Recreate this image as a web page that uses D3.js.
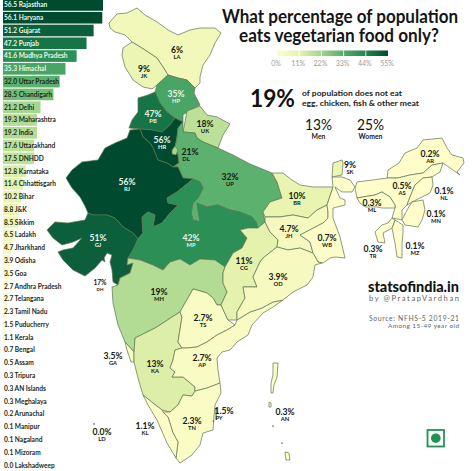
<!DOCTYPE html>
<html>
<head>
<meta charset="utf-8">
<title>India vegetarian share</title>
<script src="https://cdn.jsdelivr.net/npm/d3@7"></script>
<style>
html, body { margin: 0; padding: 0; background: #fff; }
svg { display: block; }
text { font-family: Lato, "Open Sans", sans-serif; }
</style>
</head>
<body>
<svg id="chart" width="474" height="471"></svg>
<script>
// ranking on the left
var rankNames = ["Rajasthan","Haryana","Gujarat","Punjab","Madhya Pradesh","Himachal","Uttar Pradesh","Chandigarh","Delhi","Maharashtra","India","Uttarakhand","DNHDD","Karnataka","Chhattisgarh","Bihar","J&K","Sikkim","Ladakh","Jharkhand","Odisha","Goa","Andhra Pradesh","Telangana","Tamil Nadu","Puducherry","Kerala","Bengal","Assam","Tripura","AN Islands","Meghalaya","Arunachal","Manipur","Nagaland","Mizoram","Lakshadweep"];
var rankValues = [56.5,56.1,51.2,47.2,41.6,35.3,32.0,28.5,21.2,19.3,19.2,17.6,17.5,12.8,11.4,10.2,8.8,8.5,6.5,4.7,3.9,3.5,2.7,2.7,2.3,1.5,1.1,0.7,0.5,0.3,0.3,0.3,0.2,0.1,0.1,0.1,0.0];

// legend
var legendTicks = [0,11,22,33,44,55];
var legendColors = ["#fffecb","#e7f3ae","#a1d48a","#54ad6a","#1f8650","#004a2f"];

// state outlines, [lon, lat]
var la = [[72.53,37.03],[73.09,37.63],[73.79,37.69],[74.49,38.02],[75.05,37.56],[75.89,37.1],[76.66,36.57],[77.36,36.24],[78.2,36.57],[78.9,36.7],[79.95,36.7],[80.37,36.37],[79.95,35.71],[79.6,34.92],[79.11,34.26],[78.9,33.47],[78.9,33.07],[78.55,32.74],[77.99,33.27],[77.36,33.4],[76.66,33.6],[76.31,34.13],[75.89,34.72],[75.05,35.25],[74.49,35.58],[74.14,35.78],[73.65,36.24],[72.95,36.44],[72.6,36.7]];
var jk = [[74.14,35.78],[73.51,35.38],[73.44,34.92],[73.65,34.13],[74.21,33.27],[74.91,32.81],[75.54,32.68],[75.89,32.94],[76.66,33.6],[76.31,34.13],[75.89,34.72],[75.05,35.25],[74.49,35.58]];
var hp = [[75.89,32.94],[76.66,33.6],[77.36,33.4],[77.99,33.27],[78.55,32.74],[78.48,32.41],[78.9,31.62],[78.2,31.29],[77.71,30.96],[77.71,30.5],[77.15,30.76],[76.59,31.16],[76.1,31.75],[75.75,32.48]];
var pb = [[75.75,32.48],[76.1,31.75],[76.59,31.16],[77.15,30.76],[76.8,30.3],[76.24,29.84],[75.54,29.97],[74.7,30.04],[73.93,30.1],[74.14,30.63],[74.56,31.16],[74.56,32.08],[75.26,32.28]];
var hr = [[77.71,30.5],[77.15,30.76],[76.8,30.3],[76.24,29.84],[75.54,29.97],[74.7,30.04],[74.91,29.51],[75.4,29.11],[75.61,28.78],[75.96,27.99],[76.59,27.79],[77.01,27.53],[77.43,27.79],[77.36,28.32],[77.15,28.85],[77.29,29.51],[77.36,30.1]];
var dl = [[76.94,28.65],[77.15,28.91],[77.36,28.65],[77.22,28.32],[76.94,28.39]];
var uk = [[77.85,30.5],[77.99,31.22],[78.9,31.55],[79.39,30.96],[80.09,30.83],[81,30.37],[80.51,29.64],[80.16,28.78],[79.11,29.18],[78.69,29.44],[78.55,29.77],[77.71,29.84]];
var up = [[77.71,30.5],[77.71,29.84],[78.55,29.77],[78.69,29.44],[79.11,29.18],[80.16,28.78],[81.21,28.32],[82.4,27.73],[83.94,27.13],[84.29,26.54],[84.64,25.48],[83.8,25.22],[83.31,24.56],[83.45,23.9],[82.96,23.5],[82.82,23.9],[82.54,24.23],[81.7,24.56],[81,24.69],[80.16,25.02],[79.39,24.89],[78.69,25.15],[78.76,24.69],[78.9,23.9],[78.41,24.03],[78.27,24.49],[78.41,25.15],[78.76,25.48],[79.11,26.14],[78.9,26.54],[78.41,26.74],[77.71,26.8],[77.36,27.53],[77.01,27.53],[77.43,27.79],[77.36,28.32],[77.15,28.85],[77.29,29.51],[77.36,30.1]];
var rj = [[74.7,30.04],[74,29.97],[73.79,29.44],[72.95,29.11],[72.25,28.78],[71.76,27.99],[70.64,27.86],[69.94,27.33],[69.52,26.8],[69.94,26.14],[70.5,25.55],[70.85,24.95],[71.06,24.49],[71.41,24.36],[72.39,24.36],[72.95,24.16],[73.51,23.57],[74.21,23.17],[74.56,22.78],[74.91,23.17],[74.84,24.23],[75.26,24.56],[75.75,24.36],[75.61,23.57],[76.24,23.83],[76.8,24.49],[77.36,25.02],[76.66,25.15],[76.59,25.48],[77.29,25.88],[78.06,26.47],[78.41,26.74],[77.71,26.8],[77.36,27.53],[77.01,27.53],[76.59,27.79],[75.96,27.99],[75.61,28.78],[75.4,29.11],[74.91,29.51]];
var gj = [[68.19,23.37],[68.75,23.9],[69.66,23.83],[70.85,24.03],[71.06,24.49],[71.41,24.36],[72.39,24.36],[72.95,24.16],[73.51,23.57],[74.21,23.17],[74.56,22.78],[74.21,22.05],[73.86,21.52],[73.79,21.06],[74.21,21.19],[74,20.53],[73.3,20.2],[73.16,19.74],[72.81,19.94],[72.74,20.73],[72.6,21.26],[72.74,21.72],[72.39,21.85],[72.18,21.52],[72.25,21.26],[72.04,21.39],[71.55,20.86],[70.85,20.33],[70.01,20.73],[69.31,21.39],[68.96,21.92],[69.31,22.05],[70.01,22.18],[70.64,22.84],[70.01,22.58],[69.24,22.38],[68.61,22.84]];
var mp = [[74.56,22.78],[74.91,23.17],[74.84,24.23],[75.26,24.56],[75.75,24.36],[75.61,23.57],[76.24,23.83],[76.8,24.49],[77.36,25.02],[76.66,25.15],[76.59,25.48],[77.29,25.88],[78.06,26.47],[78.41,26.74],[78.9,26.54],[79.11,26.14],[78.76,25.48],[78.41,25.15],[78.27,24.49],[78.41,24.03],[78.9,23.9],[78.76,24.69],[78.69,25.15],[79.39,24.89],[80.16,25.02],[81,24.69],[81.7,24.56],[82.54,24.23],[82.82,23.9],[82.96,23.5],[82.26,23.5],[81.7,23.37],[82.19,22.84],[81.84,22.18],[81.21,21.85],[80.65,20.93],[79.95,21.39],[78.9,21.46],[78.2,21.06],[77.5,21.46],[76.8,21.26],[76.31,20.73],[75.61,21.06],[74.7,21.39],[73.86,21.52],[74.21,22.05]];
var mh = [[72.74,19.61],[73.16,19.74],[73.3,20.2],[74,20.53],[74.21,21.19],[73.79,21.06],[73.86,21.52],[74.7,21.39],[75.61,21.06],[76.31,20.73],[76.8,21.26],[77.5,21.46],[78.2,21.06],[78.9,21.46],[79.95,21.39],[80.65,20.93],[80.51,20.53],[80.51,19.87],[80.79,19.28],[80.37,18.42],[80.09,18.42],[79.81,18.88],[79.39,19.21],[78.41,19.48],[78.06,18.88],[77.85,18.55],[77.5,17.96],[76.94,17.63],[76.31,17.23],[75.75,16.9],[75.05,16.57],[74.35,16.24],[74.28,15.32],[73.65,15.98],[73.16,17.1],[72.81,18.55]];
var ga = [[73.65,15.98],[74.28,15.32],[74.28,14.66],[74.07,14.66],[73.79,15.45]];
var ka = [[74.35,16.24],[75.05,16.57],[75.75,16.9],[76.31,17.23],[76.94,17.63],[77.5,17.96],[77.64,17.63],[77.36,15.98],[77.64,15.58],[77.15,15.45],[77.01,14.79],[76.8,14.26],[77.15,14],[76.94,13.67],[77.71,13.67],[78.55,13.01],[78.55,12.74],[78.34,12.41],[77.71,12.48],[77.36,11.82],[76.8,11.36],[76.24,11.49],[75.61,11.95],[74.91,12.48],[74.56,13.6],[74.28,14.66],[74.28,15.32]];
var ts = [[78.41,19.48],[79.39,19.21],[79.81,18.88],[80.09,18.42],[80.37,18.42],[80.86,17.43],[81.35,17.1],[80.79,16.77],[80.09,16.44],[79.39,15.98],[78.69,15.65],[77.99,15.58],[77.64,15.58],[77.36,15.98],[77.64,17.63],[77.5,17.96],[77.85,18.55],[78.06,18.88]];
var ap = [[81.35,17.1],[81.49,17.43],[82.4,17.96],[83.24,18.22],[84.01,18.62],[84.71,18.75],[84.01,18.29],[83.31,17.89],[82.54,17.1],[82.26,16.44],[81.49,15.98],[81,15.45],[80.44,15.32],[80.09,14.92],[80.16,14.13],[80.3,13.27],[79.39,12.94],[78.55,12.74],[78.55,13.01],[77.71,13.67],[76.94,13.67],[77.15,14],[76.8,14.26],[77.01,14.79],[77.15,15.45],[77.64,15.58],[77.99,15.58],[78.69,15.65],[79.39,15.98],[80.09,16.44],[80.79,16.77]];
var tn = [[78.34,12.41],[78.55,12.74],[79.39,12.94],[80.3,13.27],[80.37,12.61],[79.95,11.82],[79.88,11.03],[79.81,10.17],[79.11,9.97],[78.9,9.18],[78.34,8.52],[77.5,7.99],[77.22,8.32],[77.36,9.38],[77.01,9.97],[76.66,11.03],[76.31,11.36],[76.8,11.36],[77.36,11.82],[77.71,12.48]];
var kl = [[74.91,12.48],[75.61,11.95],[76.24,11.49],[76.31,11.36],[76.66,11.03],[77.01,9.97],[77.36,9.38],[77.22,8.32],[76.59,9.31],[75.89,10.83],[75.26,11.82]];
var cg = [[81.7,23.37],[82.26,23.5],[82.96,23.5],[83.45,23.9],[83.8,23.24],[84.36,22.71],[84.29,22.25],[83.31,21.52],[83.1,21.26],[82.61,20.27],[82.89,19.61],[81.91,19.61],[82.05,18.88],[81.49,17.96],[81.49,17.43],[80.86,17.43],[80.37,18.42],[80.79,19.28],[80.51,19.87],[80.51,20.53],[80.65,20.93],[81.21,21.85],[81.84,22.18],[82.19,22.84]];
var br = [[83.94,27.13],[84.71,27.13],[85.34,26.67],[85.9,26.34],[86.81,26.21],[88.21,26.21],[87.79,25.02],[87.09,24.69],[86.46,24.16],[85.41,24.36],[84.5,24.23],[83.45,24.23],[83.31,24.56],[83.8,25.22],[84.64,25.48],[84.29,26.54]];
var jh = [[83.45,24.23],[84.5,24.23],[85.41,24.36],[86.46,24.16],[87.09,24.69],[87.79,25.02],[87.86,24.56],[87.86,24.16],[87.51,23.83],[85.9,23.04],[86.6,22.58],[86.81,21.85],[85.9,22.18],[85.06,22.05],[84.29,22.25],[84.36,22.71],[83.8,23.24],[83.45,23.9]];
var wb = [[88.14,26.87],[88.84,26.87],[89.4,26.67],[89.75,26.21],[89.54,25.88],[88.84,25.88],[88.35,26.21],[88.7,25.48],[89.05,25.35],[89.05,25.02],[88.21,24.82],[88.21,24.16],[88.7,22.91],[89.05,21.52],[88.35,21.59],[88,21.52],[87.51,21.19],[87.16,21.26],[86.81,21.85],[86.6,22.58],[85.9,23.04],[87.51,23.83],[87.86,24.16],[87.86,24.56],[87.79,25.02],[88.21,26.21]];
var od = [[84.29,22.25],[85.06,22.05],[85.9,22.18],[86.81,21.85],[87.16,21.26],[87.44,21.19],[86.95,21.06],[86.81,20.27],[86.39,19.74],[85.41,19.28],[84.71,18.75],[84.01,18.62],[83.24,18.22],[82.4,17.96],[81.49,17.43],[81.49,17.96],[82.05,18.88],[81.91,19.61],[82.89,19.61],[82.61,20.27],[83.1,21.26],[83.31,21.52]];
var sk = [[88.21,27.79],[88.84,27.99],[88.91,27.79],[88.84,27],[88.14,26.87]];
var ar = [[92,26.8],[92.06,27.33],[92.83,27.79],[93.25,28.45],[94.09,28.78],[94.51,29.31],[95.84,29.44],[96.19,28.78],[96.54,28.32],[97.31,28.12],[97.38,27.79],[96.89,27.2],[97.1,27],[95.91,27.79],[95.14,27.66],[94.51,27.13],[93.6,27],[92.76,26.8]];
var as = [[89.89,26.54],[91.01,26.67],[92,26.8],[92.76,26.8],[93.6,27],[94.51,27.13],[95.14,27.66],[95.91,27.79],[95.7,27.2],[95.14,26.87],[94.51,26.8],[93.95,26.34],[93.6,25.55],[93.39,25.02],[93.04,24.69],[93.04,24.03],[92.69,24.1],[92.34,24.16],[92.55,24.82],[92.55,25.02],[92.2,25.55],[91.64,25.88],[91.15,25.68],[90.31,25.55],[89.89,25.48],[89.75,26.14]];
var ml = [[89.89,25.48],[90.1,25.15],[90.45,24.89],[91.29,24.89],[91.64,24.82],[92.55,24.82],[92.55,25.02],[92.2,25.55],[91.64,25.88],[91.15,25.68],[90.31,25.55]];
var nl = [[95.14,26.87],[95.21,26.34],[95,25.81],[94.3,25.48],[93.74,25.22],[93.39,25.02],[93.6,25.55],[93.95,26.34],[94.51,26.8]];
var mn = [[93.74,25.22],[94.51,25.35],[94.65,24.69],[94.44,24.03],[94.16,23.57],[93.25,23.7],[93.04,24.03],[93.39,24.69]];
var mz = [[92.55,24.03],[93.11,23.7],[93.11,23.17],[93.04,22.51],[93.04,21.52],[92.69,21.59],[92.55,22.51],[92.34,23.5]];
var tr = [[92.34,24.16],[92.55,24.03],[92.34,23.5],[91.71,23.17],[91.85,22.51],[91.36,22.58],[91.15,23.24],[91.64,23.7],[92.06,23.83]];
var py = [[79.99,11.62],[80.07,11.62],[80.03,10.83]];
var an1 = [[84.01,14.59],[84.36,14.59],[84.29,13.67],[84.08,13.14],[84.01,12.61],[83.87,12.61],[83.87,13.27],[84.01,13.8]];
var an2 = [[83.73,12.02],[83.87,11.95],[83.87,11.69],[83.73,11.69]];
var an3 = [[84.85,8.72],[85.13,8.65],[85.2,8.19],[84.92,8.19]];

var mapRings = [la,jk,hp,pb,hr,uk,up,rj,gj,mp,mh,ga,ka,ts,ap,tn,kl,cg,br,jh,wb,od,sk,ar,as,ml,nl,mn,mz,tr,py,an1,an2,an3,dl];
var mapValues = [6.5,8.8,35.3,47.2,56.1,17.6,32.0,56.5,51.2,41.6,19.3,3.5,12.8,2.7,2.7,2.3,1.1,11.4,10.2,4.7,0.7,3.9,8.5,0.2,0.5,0.3,0.1,0.1,0.1,0.3,1.5,0.3,0.3,0.3,21.2];

// island dots [lon, lat]
var islandDots = [[71.48,10.57],[84.01,10.43],[84.64,9.31],[79.84,10.75]];

// labels on the map
var labelCodes = ["LA","JK","HP","PB","UK","HR","DL","RJ","UP","GJ","MP","CG","OD","MH","DH","BR","JH","WB","SK","AR","AS","ML","NL","MN","TR","MZ","TS","AP","GA","KA","KL","TN","PY","AN","LD"];
var labelTexts = ["6%","9%","35%","47%","18%","56%","21%","56%","32%","51%","42%","11%","3.9%","19%","17%","10%","4.7%","0.7%","9%","0.2%","0.5%","0.3%","0.1%","0.1%","0.3%","0.1%","2.7%","2.7%","3.5%","13%","1.1%","2.3%","1.5%","0.3%","0.0%"];
var labelAnchors = [[77.29,35.25],[74.98,33.98],[77.22,32.35],[75.61,31.03],[79.25,30.37],[76.24,29.31],[78.2,28.52],[73.79,26.54],[81,26.87],[71.76,22.84],[78.27,22.84],[81.98,21.32],[84.36,20.27],[76.03,19.28],[71.9,19.94],[85.69,25.61],[85.13,23.44],[87.79,22.84],[89.4,27.66],[95,28.39],[93.04,26.27],[90.94,25.15],[95.98,25.94],[95.42,24.43],[91.01,22.12],[93.95,22.31],[79.11,17.56],[79.04,14.92],[72.81,15.05],[75.75,14.53],[75.05,10.43],[78.34,10.76],[80.58,11.42],[84.85,11.36],[72.04,10.04]];
var lightLabels = ["HP","PB","HR","RJ","GJ","MP"];

var svg = d3.select("#chart");
var color = d3.scaleLinear().domain(legendTicks).range(legendColors).clamp(true);

// ---- bars
var barX = d3.scaleLinear().domain([0, 56.5]).range([3, 103]);
var barY = d3.scaleBand().domain(rankNames).range([-1.4, 471.5]).paddingInner(0.09).paddingOuter(0.04);

var rows = svg.append("g").selectAll("g").data(rankNames).enter().append("g");
rows.append("rect")
    .attr("x", barX(0))
    .attr("y", function(d) { return barY(d); })
    .attr("width", function(d, i) { return barX(rankValues[i]) - barX(0); })
    .attr("height", barY.bandwidth())
    .attr("fill", function(d, i) { return color(rankValues[i]); });
rows.append("text")
    .attr("x", 4)
    .attr("y", function(d) { return barY(d) + barY.bandwidth() / 2; })
    .attr("dy", "0.36em")
    .attr("font-size", 6.6)
    .attr("font-weight", 700)
    .attr("fill", function(d, i) { return rankValues[i] > 33 ? "#eef6e8" : "#1c2a1c"; })
    .text(function(d, i) { return rankValues[i].toFixed(1) + " " + d; });

// ---- map
var lonX = d3.scaleLinear().domain([68, 98]).range([44.29, 472.86]);
var latY = d3.scaleLinear().domain([8, 38]).range([462.88, 8.33]);
var outline = d3.line()
    .x(function(d) { return lonX(d[0]); })
    .y(function(d) { return latY(d[1]); })
    .curve(d3.curveLinearClosed);

svg.append("g").selectAll("path").data(mapRings).enter().append("path")
    .attr("d", outline)
    .attr("fill", function(d, i) { return color(mapValues[i]); })
    .attr("stroke", "#5f7350")
    .attr("stroke-width", 0.7)
    .attr("stroke-linejoin", "round");

svg.append("g").selectAll("circle").data(islandDots).enter().append("circle")
    .attr("cx", function(d) { return lonX(d[0]); })
    .attr("cy", function(d) { return latY(d[1]); })
    .attr("r", 0.9)
    .attr("fill", "#77806a");

// value and code share one text element, stacked with tspans
var tags = svg.append("g").selectAll("text").data(labelCodes).enter().append("text")
    .attr("text-anchor", "middle")
    .attr("font-weight", 700)
    .attr("fill", function(d) { return lightLabels.indexOf(d) >= 0 ? "#e8f5ea" : "#16190f"; })
    .attr("transform", function(d, i) {
        return "translate(" + lonX(labelAnchors[i][0]) + "," + latY(labelAnchors[i][1]) + ")";
    });
tags.append("tspan")
    .attr("x", 0)
    .attr("y", 3.2)
    .attr("font-size", function(d) { return d === "DH" ? 6.6 : 8.6; })
    .text(function(d, i) { return labelTexts[i]; });
tags.append("tspan")
    .attr("x", function(d) { return d === "DL" ? -4 : d === "PY" ? -5 : 0; })
    .attr("y", 9.2)
    .attr("font-size", function(d) { return d === "DH" ? 4.5 : 5.8; })
    .text(function(d) { return d; });

// ---- title
var title = svg.append("g").attr("text-anchor", "middle").attr("fill", "#161616")
    .attr("font-size", 18).attr("font-weight", 700);
title.append("text").attr("x", 340).attr("y", 23).attr("textLength", 236).attr("lengthAdjust", "spacingAndGlyphs").text("What percentage of population");
title.append("text").attr("x", 339).attr("y", 42).attr("textLength", 200).attr("lengthAdjust", "spacingAndGlyphs").text("eats vegetarian food only?");

// ---- legend
var legendX = d3.scaleLinear().domain([0, 55]).range([277, 388]);
var grad = svg.append("defs").append("linearGradient").attr("id", "legendFill");
grad.selectAll("stop").data(legendTicks).enter().append("stop")
    .attr("offset", function(d) { return (d / 55 * 100) + "%"; })
    .attr("stop-color", function(d) { return color(d); });
svg.append("rect")
    .attr("x", legendX(0)).attr("y", 50.5)
    .attr("width", legendX(55) - legendX(0)).attr("height", 5.5)
    .attr("fill", "url(#legendFill)");
svg.append("g").selectAll("line").data(legendTicks.slice(1, 5)).enter().append("line")
    .attr("x1", function(d) { return legendX(d); })
    .attr("x2", function(d) { return legendX(d); })
    .attr("y1", 50).attr("y2", 56.5)
    .attr("stroke", "#fff").attr("stroke-width", 0.8);
svg.append("g").selectAll("text").data(legendTicks).enter().append("text")
    .attr("x", function(d) { return legendX(d) - 1; })
    .attr("y", 66)
    .attr("text-anchor", "middle")
    .attr("font-size", 7)
    .attr("fill", "#9c9c9c")
    .text(function(d) { return d + "%"; });

// ---- headline numbers
svg.append("text").attr("x", 250).attr("y", 107).attr("font-size", 25).attr("font-weight", 700)
    .attr("textLength", 45).attr("lengthAdjust", "spacingAndGlyphs")
    .attr("fill", "#111").text("19%");
svg.append("text").attr("x", 302).attr("y", 96).attr("font-size", 7.6).attr("font-weight", 700)
    .attr("textLength", 100).attr("lengthAdjust", "spacingAndGlyphs")
    .attr("fill", "#222").text("of population does not eat");
svg.append("text").attr("x", 302).attr("y", 106).attr("font-size", 7.6).attr("font-weight", 700)
    .attr("textLength", 117).attr("lengthAdjust", "spacingAndGlyphs")
    .attr("fill", "#222").text("egg, chicken, fish & other meat");
var splitX = [318.5, 370.5];
var splitValues = ["13%", "25%"];
var splitNames = ["Men", "Women"];
splitNames.forEach(function(name, i) {
    svg.append("text").attr("x", splitX[i]).attr("y", 130).attr("text-anchor", "middle")
        .attr("font-size", 14.5).attr("textLength", 27).attr("lengthAdjust", "spacingAndGlyphs")
        .attr("fill", "#111").text(splitValues[i]);
    svg.append("text").attr("x", splitX[i]).attr("y", 139).attr("text-anchor", "middle")
        .attr("font-size", 6.8).attr("font-weight", 700).attr("fill", "#222").text(name);
});

// ---- credits
var credits = svg.append("g").attr("text-anchor", "end");
credits.append("text").attr("x", 459).attr("y", 292).attr("font-size", 14.5).attr("font-weight", 900)
    .attr("textLength", 91).attr("lengthAdjust", "spacingAndGlyphs")
    .attr("fill", "#141414").text("statsofindia.in");
credits.append("text").attr("x", 459).attr("y", 301).attr("font-size", 7.6)
    .attr("textLength", 90).attr("lengthAdjust", "spacing")
    .attr("fill", "#666").text("by @PratapVardhan");
credits.append("text").attr("x", 459).attr("y", 320.5).attr("font-size", 6.8)
    .attr("textLength", 90).attr("lengthAdjust", "spacing")
    .attr("fill", "#666").text("Source: NFHS-5 2019-21");
credits.append("text").attr("x", 459).attr("y", 328).attr("font-size", 6.4)
    .attr("textLength", 71).attr("lengthAdjust", "spacing")
    .attr("fill", "#666").text("Among 15-49 year old");

// ---- veg mark
svg.append("rect").attr("x", 427.5).attr("y", 430).attr("width", 16.5).attr("height", 16.5)
    .attr("fill", "#f7fbf7").attr("stroke", "#2a8f57").attr("stroke-width", 1.8);
svg.append("circle").attr("cx", 435.8).attr("cy", 438.2).attr("r", 4.8).attr("fill", "#239152");
</script>
</body>
</html>
